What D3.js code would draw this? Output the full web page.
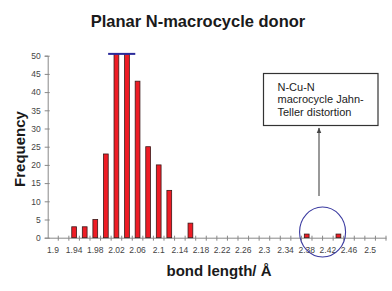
<!DOCTYPE html>
<html><head><meta charset="utf-8">
<script src="https://cdn.jsdelivr.net/npm/d3@7"></script>
<style>body{margin:0;background:#fff}svg{display:block}text{font-family:"Liberation Sans",Arial,sans-serif}</style>
</head><body>
<script>
const categories = ["1.9","1.92","1.94","1.96","1.98","2","2.02","2.04","2.06","2.08","2.1","2.12","2.14","2.16","2.18","2.2","2.22","2.24","2.26","2.28","2.3","2.32","2.34","2.36","2.38","2.4","2.42","2.44","2.46","2.48","2.5","2.52"];
const frequency = [0,0,3,3,5,23,51,51,43,25,20,13,0,4,0,0,0,0,0,0,0,0,0,0,1,0,0,1,0,0,0,0];
const tickLabels = ["1.9","1.94","1.98","2.02","2.06","2.1","2.14","2.18","2.22","2.26","2.3","2.34","2.38","2.42","2.46","2.5"];
const yTicks = [0,5,10,15,20,25,30,35,40,45,50];
const annotationLines = ["N-Cu-N","macrocycle Jahn-","Teller distortion"];

const W=392,H=291;
const svg=d3.select("body").append("svg").attr("width",W).attr("height",H);
const x0=47.7,x1=386,yb=237.7,yt=55.7;
const xb=d3.scaleBand().domain(categories).range([x0,x1]).paddingInner(0.55).paddingOuter(0.275);
const xs=d3.scaleBand().domain(categories).range([x0,x1]).padding(0);
const y=d3.scaleLinear().domain([0,50]).range([yb,yt]);
const clipV=50.5;

svg.append("text").attr("x",198).attr("y",27).attr("text-anchor","middle")
  .attr("font-size",16.5).attr("font-weight","bold").attr("fill","#1a1a1a").text("Planar N-macrocycle donor");

// y axis
const ya=svg.append("g").attr("transform",`translate(${x0},0)`)
  .call(d3.axisLeft(y).tickValues(yTicks).tickSize(3).tickPadding(4));
ya.select(".domain").attr("stroke","#888");
ya.selectAll(".tick line").attr("stroke","#888").attr("x2",-3).attr("x1",2);
ya.selectAll(".tick text").attr("font-size",8.5).attr("fill","#444").attr("font-family","Liberation Sans, Arial, sans-serif");

// x axis
const xa=svg.append("g").attr("transform",`translate(0,${yb})`)
  .call(d3.axisBottom(xs).tickValues(tickLabels).tickSize(0).tickPadding(9));
xa.select(".domain").attr("stroke","#888");
xa.selectAll(".tick text").attr("font-size",8.5).attr("fill","#444").attr("font-family","Liberation Sans, Arial, sans-serif");
svg.append("g").selectAll("line").data(categories).join("line")
  .attr("x1",d=>xs(d)+xs.bandwidth()).attr("x2",d=>xs(d)+xs.bandwidth())
  .attr("y1",yb-2).attr("y2",yb+3).attr("stroke","#888");

// bars
svg.append("g").selectAll("rect").data(categories.map((c,i)=>({c,v:frequency[i]})).filter(d=>d.v>0)).join("rect")
  .attr("x",d=>xb(d.c)).attr("width",xb.bandwidth())
  .attr("y",d=>y(Math.min(d.v,clipV))).attr("height",d=>yb-y(Math.min(d.v,clipV)))
  .attr("fill","#ee1c25").attr("stroke","#3a1a1a").attr("stroke-width",0.8);

// break line over clipped bars
const clipped=categories.filter((c,i)=>frequency[i]>50);
svg.append("line").attr("x1",xs(clipped[0])-3).attr("x2",xs(clipped[clipped.length-1])+xs.bandwidth()+3)
  .attr("y1",y(clipV)).attr("y2",y(clipV)).attr("stroke","#2a2a9a").attr("stroke-width",2);

// axis titles
svg.append("text").attr("transform","translate(25,149) rotate(-90)").attr("text-anchor","middle")
  .attr("font-size",15).attr("font-weight","bold").attr("fill","#1a1a1a").text("Frequency");
svg.append("text").attr("x",219).attr("y",276).attr("text-anchor","middle")
  .attr("font-size",15).attr("font-weight","bold").attr("fill","#1a1a1a").text("bond length/ Å");

// circle highlight
const cx=(xs("2.38")+xs("2.44")+xs.bandwidth())/2;
svg.append("ellipse").attr("cx",cx).attr("cy",232).attr("rx",23).attr("ry",25)
  .attr("fill","none").attr("stroke","#3a3aa0").attr("stroke-width",1.1);

// arrow
svg.append("defs").append("marker").attr("id","ah").attr("viewBox","0 0 10 10").attr("refX",9).attr("refY",5)
  .attr("markerWidth",5).attr("markerHeight",8).attr("orient","auto")
  .append("path").attr("d","M0,1 L10,5 L0,9 Z").attr("fill","#444");
svg.append("line").attr("x1",319).attr("x2",319).attr("y1",196).attr("y2",128)
  .attr("stroke","#555").attr("stroke-width",1.2).attr("marker-end","url(#ah)");

// annotation box
svg.append("rect").attr("x",263.5).attr("y",73.5).attr("width",114.5).attr("height",52)
  .attr("fill","#fff").attr("stroke","#333").attr("stroke-width",1.2);
svg.append("g").selectAll("text").data(annotationLines).join("text")
  .attr("x",277.5).attr("y",(d,i)=>90.5+i*12.6).attr("font-size",11).attr("fill","#222").text(d=>d);
</script>
</body></html>
